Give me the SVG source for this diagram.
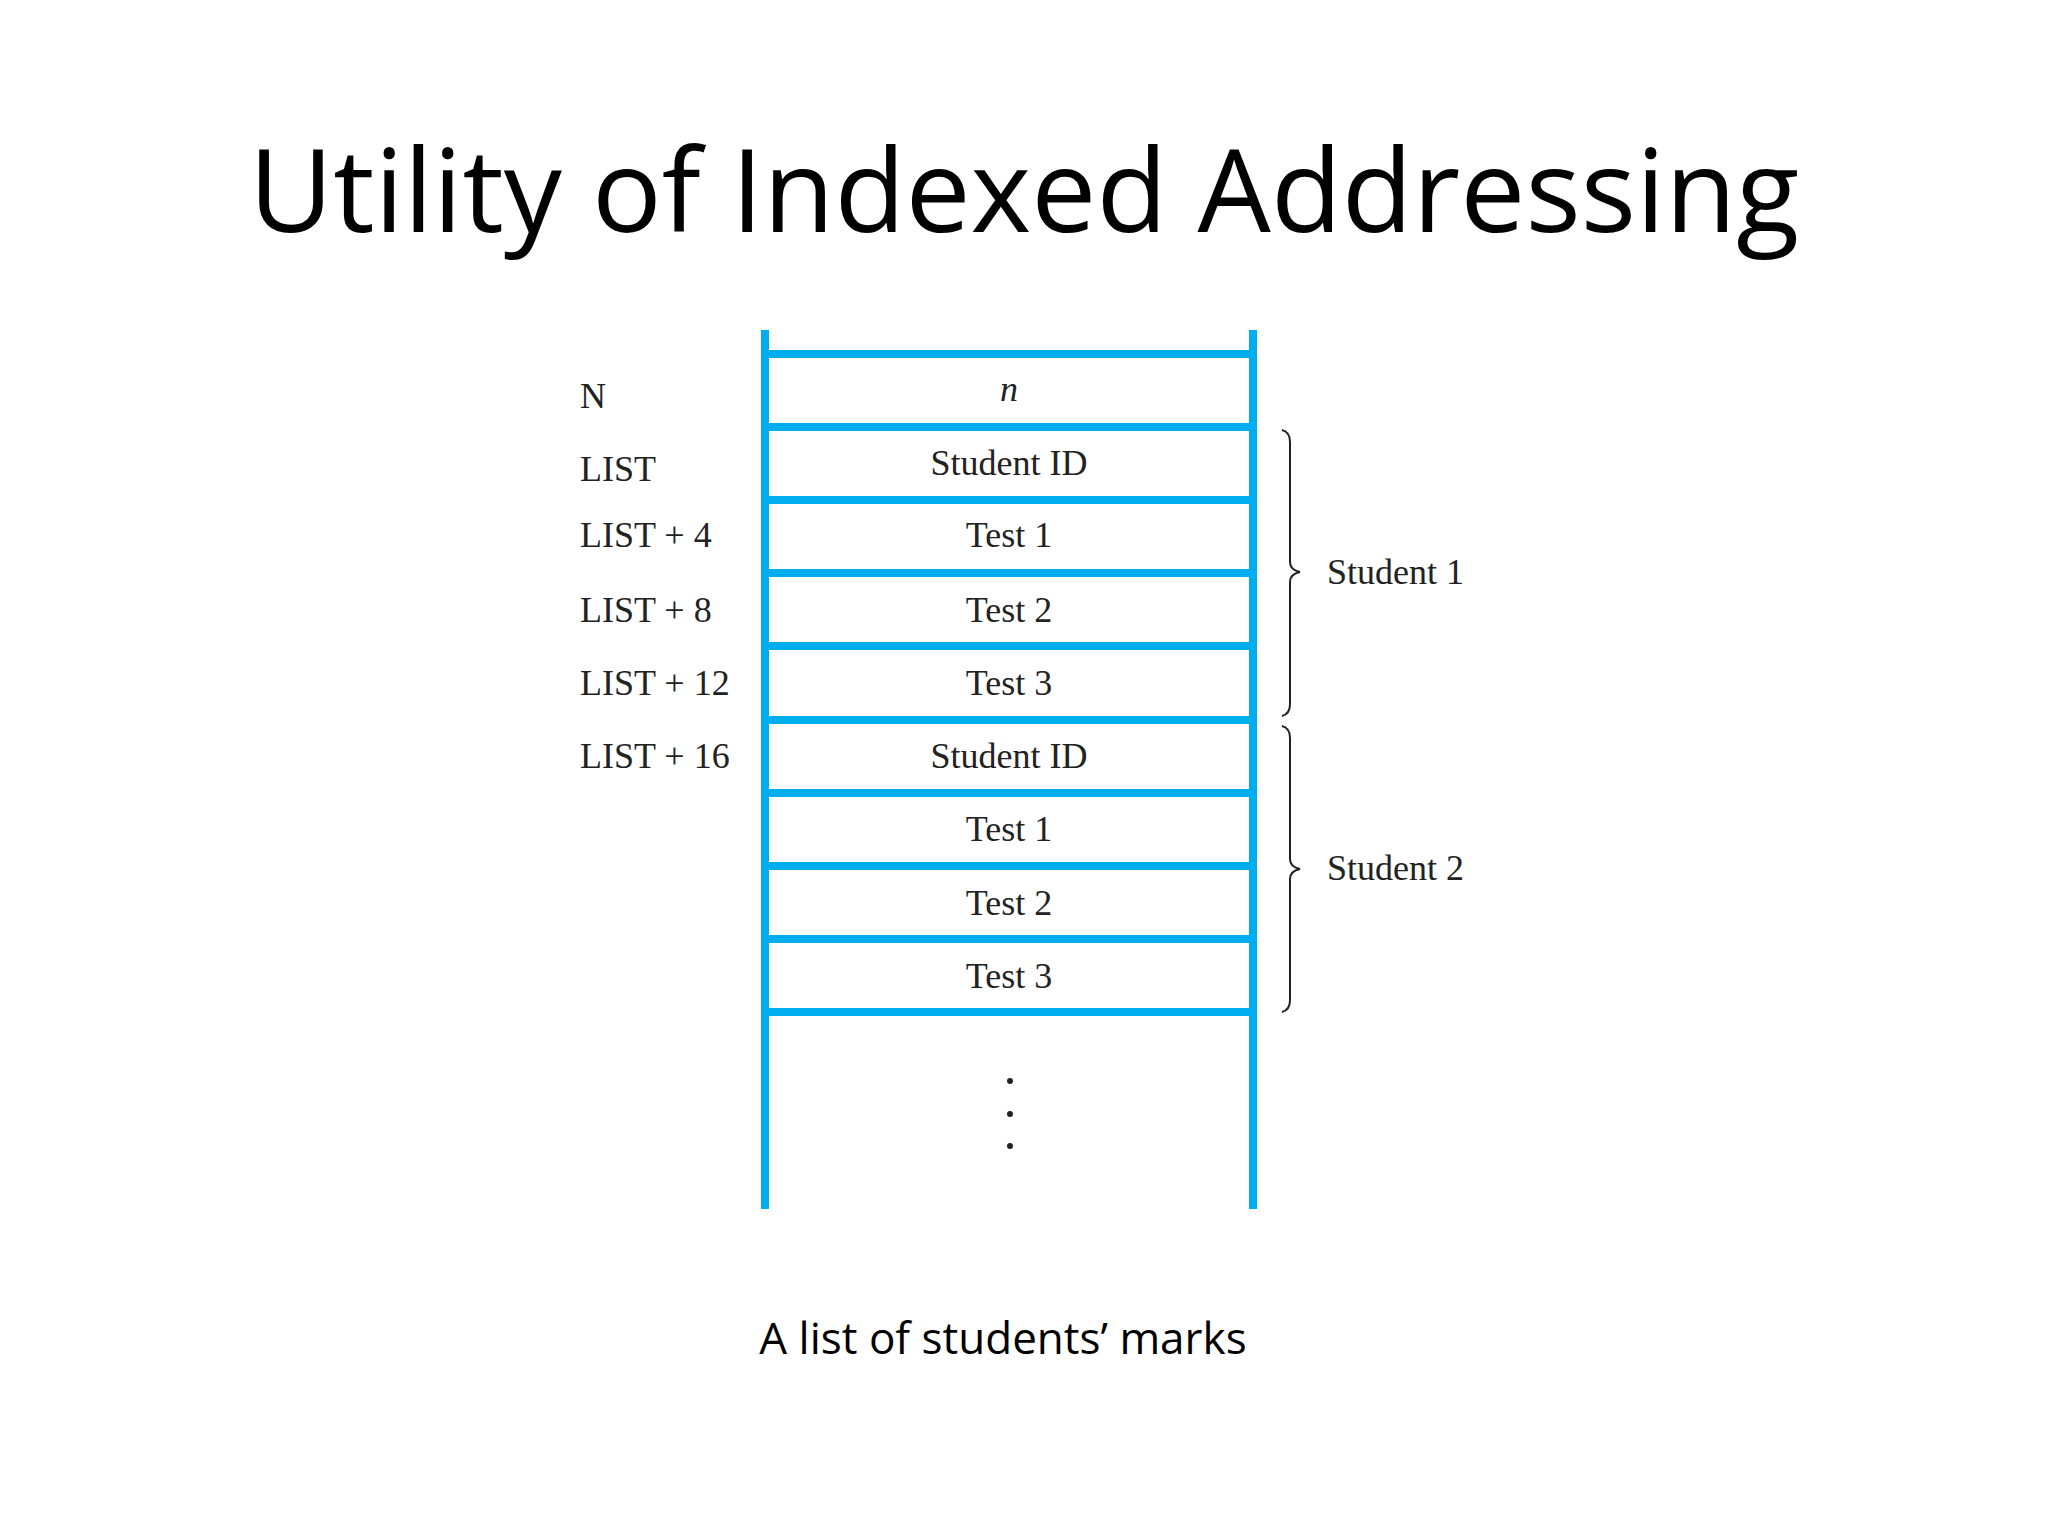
<svg xmlns="http://www.w3.org/2000/svg" width="2048" height="1536" viewBox="0 0 2048 1536">
<style>
.t{font-family:"Liberation Serif",serif;font-size:36px;fill:#222}
.c{text-anchor:middle}
.h{stroke:#00adef;stroke-width:8}
.b{fill:none;stroke:#222;stroke-width:2}
</style>
<rect width="2048" height="1536" fill="#fff"/>
<text x="1024" y="232" text-anchor="middle" font-family="Open Sans, sans-serif" font-size="116" fill="#000">Utility of Indexed Addressing</text>
<g id="connectors">
<line class="h" x1="765" y1="330" x2="765" y2="1209"/>
<line class="h" x1="1253" y1="330" x2="1253" y2="1209"/>
<line class="h" x1="765" y1="354" x2="1253" y2="354"/>
<line class="h" x1="765" y1="427" x2="1253" y2="427"/>
<line class="h" x1="765" y1="500" x2="1253" y2="500"/>
<line class="h" x1="765" y1="573" x2="1253" y2="573"/>
<line class="h" x1="765" y1="646" x2="1253" y2="646"/>
<line class="h" x1="765" y1="720" x2="1253" y2="720"/>
<line class="h" x1="765" y1="793" x2="1253" y2="793"/>
<line class="h" x1="765" y1="866" x2="1253" y2="866"/>
<line class="h" x1="765" y1="939" x2="1253" y2="939"/>
<line class="h" x1="765" y1="1012" x2="1253" y2="1012"/>
<path class="b" d="M1282,430 q8,2 8,12 v120 q0,8 10,10 q-10,2 -10,10 v122 q0,10 -8,12"/>
<path class="b" d="M1282,726 q8,2 8,12 v121 q0,8 10,10 q-10,2 -10,10 v121 q0,10 -8,12"/>
</g>
<g id="labels">
<text class="t" x="580" y="408">N</text>
<text class="t" x="580" y="481">LIST</text>
<text class="t" x="580" y="547">LIST + 4</text>
<text class="t" x="580" y="622">LIST + 8</text>
<text class="t" x="580" y="695">LIST + 12</text>
<text class="t" x="580" y="768">LIST + 16</text>
</g>
<g id="cells">
<text class="t c" x="1009" y="401" font-style="italic">n</text>
<text class="t c" x="1009" y="475">Student ID</text>
<text class="t c" x="1009" y="547">Test 1</text>
<text class="t c" x="1009" y="622">Test 2</text>
<text class="t c" x="1009" y="695">Test 3</text>
<text class="t c" x="1009" y="768">Student ID</text>
<text class="t c" x="1009" y="841">Test 1</text>
<text class="t c" x="1009" y="915">Test 2</text>
<text class="t c" x="1009" y="988">Test 3</text>
<circle cx="1010" cy="1081" r="3" fill="#222"/>
<circle cx="1010" cy="1114" r="3" fill="#222"/>
<circle cx="1010" cy="1146" r="3" fill="#222"/>
</g>
<g id="groups">
<text class="t" x="1327" y="584">Student 1</text>
<text class="t" x="1327" y="880">Student 2</text>
</g>
<text x="1003" y="1354" text-anchor="middle" font-family="Open Sans, sans-serif" font-size="44" fill="#000">A list of students’ marks</text>
</svg>
